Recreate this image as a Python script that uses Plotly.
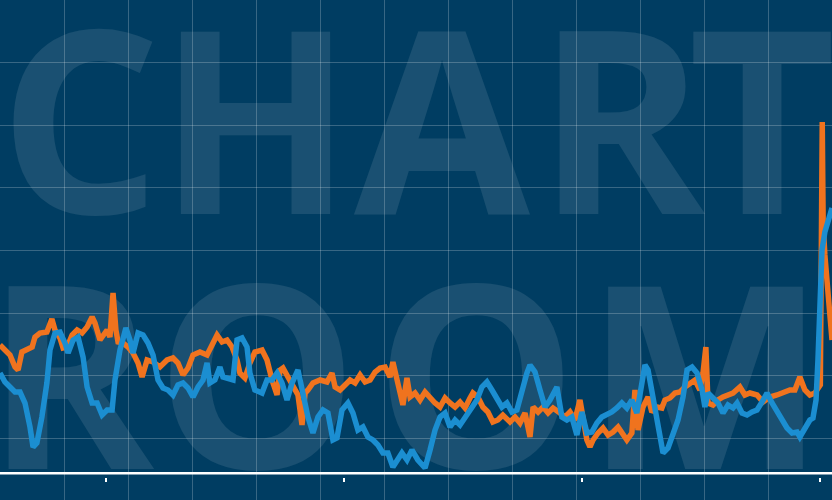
import plotly.graph_objects as go

# ---------------- data ----------------
tick_years = [1990, 2000, 2010, 2020]

orange_years = [
    1985.55, 1985.76, 1985.97, 1986.18, 1986.31, 1986.47, 1986.68, 1986.90, 1987.02, 1987.23,
    1987.52, 1987.73, 1987.86, 1988.07, 1988.20, 1988.37, 1988.58, 1988.79, 1989.00, 1989.21,
    1989.42, 1989.54, 1989.75, 1989.88, 1990.05, 1990.17, 1990.30, 1990.42, 1990.51, 1990.72,
    1990.93, 1991.14, 1991.35, 1991.52, 1991.73, 1991.98, 1992.27, 1992.57, 1992.82, 1993.03,
    1993.24, 1993.45, 1993.66, 1993.95, 1994.25, 1994.46, 1994.67, 1994.88, 1995.09, 1995.30,
    1995.51, 1995.63, 1995.84, 1996.05, 1996.26, 1996.56, 1996.77, 1996.98, 1997.19, 1997.32,
    1997.44, 1997.65, 1997.86, 1998.07, 1998.24, 1998.37, 1998.49, 1998.70, 1999.00, 1999.29,
    1999.50, 1999.63, 1999.84, 2000.05, 2000.26, 2000.47, 2000.68, 2000.89, 2001.10, 2001.31,
    2001.52, 2001.73, 2001.94, 2002.06, 2002.23, 2002.36, 2002.48, 2002.65, 2002.78, 2002.99,
    2003.20, 2003.41, 2003.62, 2003.83, 2004.04, 2004.25, 2004.46, 2004.67, 2004.88, 2005.09,
    2005.30, 2005.42, 2005.63, 2005.84, 2006.05, 2006.26, 2006.47, 2006.68, 2006.98, 2007.19,
    2007.40, 2007.61, 2007.82, 2007.95, 2008.16, 2008.37, 2008.58, 2008.79, 2009.08, 2009.29,
    2009.50, 2009.71, 2009.92, 2010.05, 2010.21, 2010.34, 2010.47, 2010.68, 2010.89, 2011.10,
    2011.31, 2011.52, 2011.73, 2011.89, 2012.10, 2012.23, 2012.36, 2012.57, 2012.78, 2012.94,
    2013.15, 2013.36, 2013.49, 2013.70, 2013.91, 2014.12, 2014.33, 2014.54, 2014.75, 2014.96,
    2015.09, 2015.21, 2015.30, 2015.51, 2015.72, 2015.93, 2016.14, 2016.35, 2016.64, 2016.85,
    2017.06, 2017.36, 2017.61, 2017.90, 2018.20, 2018.45, 2018.74, 2018.95, 2019.16, 2019.37,
    2019.58, 2019.79, 2019.96, 2020.02, 2020.10, 2020.14, 2020.21, 2020.30, 2020.38, 2020.51,
]
orange_values = [
    12.5, 12.0, 11.5, 10.3, 10.0, 11.8, 12.0, 12.3, 13.3, 13.7,
    13.8, 15.1, 14.0, 13.2, 12.2, 12.3, 13.5, 14.0, 13.7, 14.3,
    15.3, 14.7, 13.0, 13.5, 14.0, 13.3, 17.7, 14.0, 12.8, 12.7,
    12.3, 11.7, 10.7, 9.3, 11.0, 10.8, 10.3, 11.0, 11.2, 10.7,
    9.5, 10.2, 11.5, 11.8, 11.5, 12.5, 13.5, 12.8, 13.0, 12.3,
    11.0, 9.7, 9.2, 10.7, 11.8, 12.0, 11.0, 9.0, 7.5, 10.0,
    10.2, 9.3, 8.3, 7.5, 4.5, 7.7, 8.0, 8.7, 9.0, 8.8,
    9.7, 8.3, 8.0, 8.5, 9.0, 8.7, 9.5, 8.8, 9.0, 9.8,
    10.2, 10.3, 9.3, 10.8, 9.0, 8.2, 6.5, 9.2, 7.3, 7.7,
    7.0, 7.8, 7.2, 6.7, 6.3, 7.2, 6.7, 6.3, 6.8, 6.2,
    7.2, 7.7, 7.3, 6.3, 5.8, 4.8, 5.0, 5.5, 4.8, 5.3,
    4.7, 5.7, 3.3, 6.3, 5.8, 6.3, 5.7, 6.2, 5.7, 5.3,
    5.8, 5.0, 7.0, 5.0, 3.0, 2.3, 3.0, 3.7, 4.2, 3.5,
    3.8, 4.3, 3.5, 3.0, 3.7, 8.0, 4.0, 6.3, 7.3, 5.8,
    6.3, 6.2, 7.0, 7.2, 7.7, 7.8, 8.3, 8.7, 9.0, 8.0,
    9.7, 12.3, 6.7, 6.5, 7.0, 7.3, 7.5, 7.7, 8.3, 7.5,
    7.7, 7.5, 6.8, 7.3, 7.5, 7.8, 8.0, 8.0, 9.3, 8.0,
    7.5, 7.7, 8.3, 8.5, 34.8, 24.5, 21.5, 19.0, 16.5, 13.0,
]

blue_years = [
    1985.55, 1985.76, 1985.97, 1986.18, 1986.39, 1986.60, 1986.81, 1986.94, 1987.10, 1987.31,
    1987.52, 1987.65, 1987.86, 1988.07, 1988.28, 1988.41, 1988.62, 1988.83, 1989.04, 1989.21,
    1989.42, 1989.63, 1989.84, 1990.05, 1990.26, 1990.38, 1990.59, 1990.84, 1991.01, 1991.14,
    1991.35, 1991.56, 1991.77, 1991.98, 1992.19, 1992.40, 1992.61, 1992.82, 1993.03, 1993.24,
    1993.45, 1993.66, 1993.87, 1994.08, 1994.25, 1994.37, 1994.58, 1994.79, 1994.92, 1995.13,
    1995.34, 1995.51, 1995.72, 1995.93, 1996.05, 1996.26, 1996.56, 1996.77, 1996.98, 1997.19,
    1997.40, 1997.61, 1997.82, 1998.07, 1998.28, 1998.49, 1998.70, 1998.91, 1999.12, 1999.33,
    1999.54, 1999.71, 1999.92, 2000.17, 2000.38, 2000.59, 2000.80, 2001.01, 2001.22, 2001.43,
    2001.64, 2001.85, 2002.06, 2002.23, 2002.44, 2002.65, 2002.86, 2003.11, 2003.41, 2003.62,
    2003.83, 2004.04, 2004.25, 2004.46, 2004.67, 2004.88, 2005.09, 2005.30, 2005.59, 2005.80,
    2006.01, 2006.22, 2006.43, 2006.64, 2006.85, 2007.06, 2007.27, 2007.48, 2007.69, 2007.82,
    2008.03, 2008.24, 2008.45, 2008.66, 2008.95, 2009.16, 2009.37, 2009.58, 2009.79, 2010.00,
    2010.21, 2010.42, 2010.63, 2010.84, 2011.05, 2011.26, 2011.47, 2011.68, 2011.89, 2012.10,
    2012.31, 2012.52, 2012.65, 2012.78, 2012.99, 2013.20, 2013.41, 2013.62, 2013.83, 2014.04,
    2014.25, 2014.42, 2014.63, 2014.84, 2015.05, 2015.17, 2015.30, 2015.51, 2015.72, 2015.93,
    2016.14, 2016.35, 2016.52, 2016.73, 2016.94, 2017.15, 2017.36, 2017.57, 2017.78, 2017.99,
    2018.20, 2018.41, 2018.62, 2018.83, 2019.04, 2019.16, 2019.37, 2019.58, 2019.71, 2019.84,
    2019.92, 2020.00, 2020.09, 2020.21, 2020.34, 2020.51,
]
blue_values = [
    9.7, 8.8, 8.3, 7.8, 7.8, 6.7, 4.3, 2.3, 2.7, 5.3,
    8.7, 12.0, 13.7, 13.8, 12.7, 11.7, 13.0, 13.3, 11.3, 8.3,
    6.7, 6.7, 5.5, 6.0, 6.0, 9.0, 12.0, 14.2, 13.0, 11.7,
    13.7, 13.5, 12.7, 11.5, 9.0, 8.2, 8.0, 7.5, 8.5, 8.7,
    8.2, 7.3, 8.3, 9.0, 10.7, 8.7, 9.0, 10.3, 9.3, 9.2,
    9.0, 13.0, 13.2, 12.3, 9.7, 8.0, 7.7, 9.0, 9.0, 9.7,
    8.7, 7.0, 8.7, 10.0, 7.7, 5.3, 3.7, 5.3, 6.0, 5.7,
    3.0, 3.2, 6.0, 6.7, 5.7, 4.0, 4.3, 3.3, 3.0, 2.5,
    1.7, 1.7, 0.3, 1.0, 1.7, 1.0, 2.0, 1.0, 0.2, 2.0,
    4.0, 5.3, 5.7, 4.3, 5.0, 4.5, 5.3, 6.0, 7.0, 8.3,
    8.8, 8.0, 7.2, 6.3, 6.7, 5.8, 6.0, 8.0, 9.7, 10.5,
    9.8, 8.0, 6.3, 7.0, 8.3, 5.3, 5.0, 5.3, 3.5, 5.8,
    3.7, 3.8, 4.7, 5.3, 5.5, 5.8, 6.2, 6.7, 6.2, 7.0,
    5.7, 9.0, 10.5, 10.0, 7.3, 4.3, 1.7, 2.2, 3.7, 5.0,
    7.3, 10.0, 10.3, 9.7, 8.0, 6.3, 7.7, 7.2, 6.7, 5.7,
    6.5, 6.2, 6.7, 5.7, 5.5, 5.8, 6.0, 6.8, 7.7, 6.7,
    5.8, 5.0, 4.2, 3.7, 3.8, 3.3, 4.2, 5.0, 5.2, 7.0,
    11.0, 16.0, 22.0, 23.8, 24.8, 26.2,
]

watermark_words = ["CHART", "ROOM"]

assert len(orange_years) == len(orange_values)
assert len(blue_years) == len(blue_values)

# ---------------- styling / layout constants ----------------
W, H = 832, 500
BG = "#003d62"
ORANGE = "#f0731e"
BLUE = "#1b8ed1"
GRID = "rgba(255,255,255,0.22)"
LETTER = "rgba(255,255,255,0.10)"
LETTER_FONT = "Open Sans"
LETTER_SIZE = 255
# per-letter horizontal centres (px) and cap-centre height (px) of each watermark word
letter_centres = {"CHART": [80, 255.5, 442, 621, 762], "ROOM": [70, 257, 476, 705.5]}
word_cap_centre = {"CHART": 120.7, "ROOM": 375.8}

AXIS_Y_PX = 476.7          # bottom of the data area (tick marks start here)
AXIS_LINE_PX = 473.3       # white axis rule
X_RANGE = [1985.55, 2020.51]
Y_RANGE = [-0.67, 47.0]

fig = go.Figure()

# watermark letters on a full-page decoration subplot (drawn under the data)
wm_x, wm_y, wm_t = [], [], []
for word in watermark_words:
    for ch, cx in zip(word, letter_centres[word]):
        wm_x.append(cx)
        wm_y.append(word_cap_centre[word] + 0.115 * LETTER_SIZE)
        wm_t.append(ch)
fig.add_trace(go.Scatter(
    x=wm_x, y=wm_y, text=wm_t, mode="text", textposition="middle center",
    textfont=dict(family=LETTER_FONT, size=LETTER_SIZE, color=LETTER, weight=700),
    hoverinfo="skip", showlegend=False, xaxis="x", yaxis="y", cliponaxis=False,
))

# data lines
fig.add_trace(go.Scatter(
    x=orange_years, y=orange_values, mode="lines",
    line=dict(color=ORANGE, width=5.5), showlegend=False,
    xaxis="x2", yaxis="y2",
))
fig.add_trace(go.Scatter(
    x=blue_years, y=blue_values, mode="lines",
    line=dict(color=BLUE, width=5.5), showlegend=False,
    xaxis="x2", yaxis="y2",
))

fig.update_layout(
    width=W, height=H,
    margin=dict(l=0, r=0, t=0, b=0, pad=0),
    paper_bgcolor=BG, plot_bgcolor="rgba(0,0,0,0)",
    xaxis=dict(domain=[0, 1], range=[0, W], showgrid=True, gridcolor=GRID, gridwidth=1,
               tick0=0, dtick=64, showticklabels=False, ticks="", zeroline=False,
               showline=False, fixedrange=True),
    yaxis=dict(domain=[0, 1], range=[H, 0], showgrid=True, gridcolor=GRID, gridwidth=1,
               tick0=0, dtick=62.6, showticklabels=False, ticks="", zeroline=False,
               showline=False, fixedrange=True),
    xaxis2=dict(domain=[0, 1], range=X_RANGE, anchor="y2", showgrid=False, zeroline=False,
                showline=False, tickmode="array", tickvals=tick_years,
                showticklabels=False, ticks="outside", ticklen=4, tickwidth=2.3,
                tickcolor="white"),
    yaxis2=dict(domain=[1 - AXIS_Y_PX / H, 1], range=Y_RANGE, anchor="x2", visible=False),
    shapes=[dict(type="line", xref="paper", yref="paper", x0=0, x1=1,
                 y0=1 - AXIS_LINE_PX / H, y1=1 - AXIS_LINE_PX / H,
                 line=dict(color="white", width=2.5))],
)

fig.write_html("out.html", config={"displayModeBar": False},
               post_script="document.body.style.margin='0';")
